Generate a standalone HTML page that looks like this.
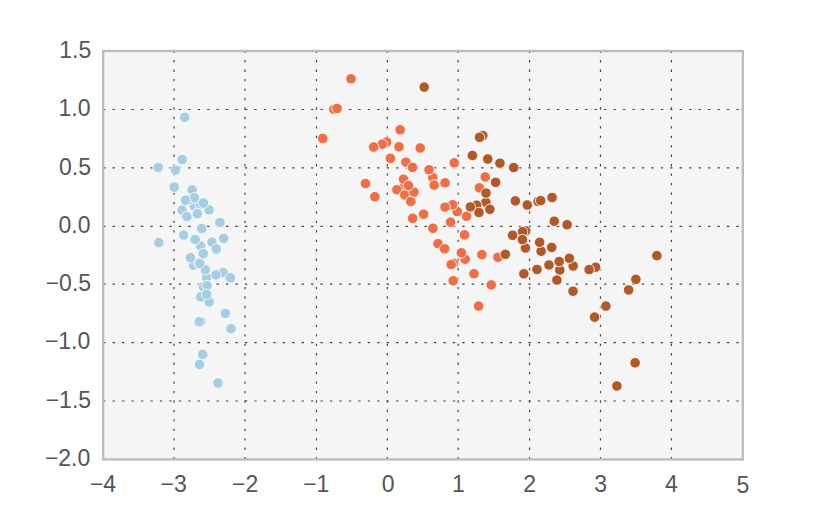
<!DOCTYPE html>
<html><head><meta charset="utf-8"><title>Iris PCA scatter</title>
<style>
html,body{margin:0;padding:0;background:#ffffff;font-family:"Liberation Sans",sans-serif;}
svg{display:block;}
</style></head><body>
<svg width="825" height="510" viewBox="0 0 825 510">
<rect x="103.125" y="51.000" width="639.725" height="408.450" fill="#f5f5f5"/>
<g stroke="#444444" stroke-width="1.181" stroke-dasharray="2.363 7.088" fill="none"><path d="M174.000 459.400V51.100"/><path d="M245.000 459.400V51.100"/><path d="M316.470 459.400V51.100"/><path d="M387.300 459.400V51.100"/><path d="M458.130 459.400V51.100"/><path d="M529.550 459.400V51.100"/><path d="M600.470 459.400V51.100"/><path d="M671.400 459.400V51.100"/><path d="M103.125 109.470H742.500"/><path d="M103.125 167.910H742.500"/><path d="M103.125 226.420H742.500"/><path d="M103.125 284.180H742.500"/><path d="M103.125 342.600H742.500"/><path d="M103.125 401.030H742.500"/></g>
<g stroke="#fcfcfc" stroke-width="0.880"><g fill="#a6cee3"><circle cx="196.60" cy="264.19" r="5.26"/><circle cx="194.39" cy="206.31" r="5.26"/><circle cx="181.99" cy="210.06" r="5.26"/><circle cx="192.18" cy="189.79" r="5.26"/><circle cx="193.45" cy="265.04" r="5.26"/><circle cx="225.32" cy="313.32" r="5.26"/><circle cx="186.89" cy="216.51" r="5.26"/><circle cx="200.70" cy="245.96" r="5.26"/><circle cx="182.13" cy="159.50" r="5.26"/><circle cx="197.34" cy="213.64" r="5.26"/><circle cx="209.22" cy="302.14" r="5.26"/><circle cx="201.65" cy="228.60" r="5.26"/><circle cx="189.27" cy="199.52" r="5.26"/><circle cx="158.17" cy="167.37" r="5.26"/><circle cx="199.49" cy="364.46" r="5.26"/><circle cx="217.94" cy="382.96" r="5.26"/><circle cx="200.98" cy="321.52" r="5.26"/><circle cx="199.15" cy="263.32" r="5.26"/><circle cx="231.07" cy="328.66" r="5.26"/><circle cx="203.48" cy="286.80" r="5.26"/><circle cx="223.15" cy="272.50" r="5.26"/><circle cx="206.62" cy="277.42" r="5.26"/><circle cx="158.83" cy="242.61" r="5.26"/><circle cx="223.67" cy="238.40" r="5.26"/><circle cx="219.91" cy="222.44" r="5.26"/><circle cx="209.13" cy="209.86" r="5.26"/><circle cx="211.89" cy="242.17" r="5.26"/><circle cx="205.26" cy="269.80" r="5.26"/><circle cx="199.75" cy="263.33" r="5.26"/><circle cx="200.25" cy="203.91" r="5.26"/><circle cx="203.40" cy="203.06" r="5.26"/><circle cx="216.08" cy="274.86" r="5.26"/><circle cx="199.20" cy="321.74" r="5.26"/><circle cx="202.79" cy="354.41" r="5.26"/><circle cx="197.34" cy="213.64" r="5.26"/><circle cx="183.62" cy="235.09" r="5.26"/><circle cx="200.79" cy="296.87" r="5.26"/><circle cx="197.34" cy="213.64" r="5.26"/><circle cx="175.46" cy="170.06" r="5.26"/><circle cx="203.27" cy="253.62" r="5.26"/><circle cx="190.50" cy="257.71" r="5.26"/><circle cx="184.67" cy="117.26" r="5.26"/><circle cx="174.29" cy="187.09" r="5.26"/><circle cx="216.40" cy="248.94" r="5.26"/><circle cx="230.37" cy="277.73" r="5.26"/><circle cx="194.37" cy="197.78" r="5.26"/><circle cx="207.02" cy="285.62" r="5.26"/><circle cx="185.51" cy="200.35" r="5.26"/><circle cx="206.66" cy="294.48" r="5.26"/><circle cx="195.20" cy="239.50" r="5.26"/></g><g fill="#f06e46"><circle cx="478.57" cy="306.05" r="5.26"/><circle cx="453.53" cy="263.32" r="5.26"/><circle cx="491.30" cy="284.90" r="5.26"/><circle cx="400.15" cy="129.77" r="5.26"/><circle cx="464.52" cy="234.88" r="5.26"/><circle cx="432.79" cy="177.40" r="5.26"/><circle cx="465.10" cy="259.20" r="5.26"/><circle cx="333.91" cy="109.30" r="5.26"/><circle cx="461.41" cy="252.80" r="5.26"/><circle cx="386.57" cy="142.03" r="5.26"/><circle cx="350.98" cy="78.81" r="5.26"/><circle cx="423.60" cy="214.15" r="5.26"/><circle cx="405.93" cy="162.17" r="5.26"/><circle cx="457.20" cy="211.58" r="5.26"/><circle cx="374.87" cy="196.71" r="5.26"/><circle cx="453.19" cy="280.71" r="5.26"/><circle cx="434.15" cy="185.03" r="5.26"/><circle cx="403.95" cy="187.36" r="5.26"/><circle cx="454.24" cy="162.88" r="5.26"/><circle cx="390.36" cy="158.25" r="5.26"/><circle cx="466.59" cy="216.26" r="5.26"/><circle cx="412.64" cy="218.29" r="5.26"/><circle cx="479.39" cy="187.87" r="5.26"/><circle cx="452.69" cy="204.81" r="5.26"/><circle cx="438.02" cy="243.63" r="5.26"/><circle cx="451.20" cy="264.54" r="5.26"/><circle cx="481.85" cy="254.63" r="5.26"/><circle cx="497.93" cy="257.28" r="5.26"/><circle cx="445.01" cy="207.15" r="5.26"/><circle cx="365.46" cy="183.50" r="5.26"/><circle cx="382.29" cy="144.13" r="5.26"/><circle cx="373.66" cy="147.05" r="5.26"/><circle cx="396.88" cy="189.72" r="5.26"/><circle cx="485.24" cy="176.95" r="5.26"/><circle cx="429.01" cy="169.71" r="5.26"/><circle cx="444.64" cy="248.84" r="5.26"/><circle cx="473.99" cy="273.69" r="5.26"/><circle cx="445.04" cy="182.84" r="5.26"/><circle cx="404.71" cy="194.97" r="5.26"/><circle cx="398.98" cy="146.80" r="5.26"/><circle cx="420.19" cy="147.98" r="5.26"/><circle cx="450.53" cy="222.14" r="5.26"/><circle cx="403.55" cy="179.16" r="5.26"/><circle cx="337.06" cy="108.45" r="5.26"/><circle cx="412.55" cy="167.38" r="5.26"/><circle cx="410.82" cy="201.45" r="5.26"/><circle cx="413.95" cy="192.07" r="5.26"/><circle cx="432.88" cy="228.31" r="5.26"/><circle cx="322.75" cy="138.41" r="5.26"/><circle cx="408.45" cy="185.60" r="5.26"/></g><g fill="#b15928"><circle cx="567.15" cy="224.70" r="5.26"/><circle cx="487.75" cy="159.02" r="5.26"/><circle cx="573.17" cy="265.97" r="5.26"/><circle cx="527.30" cy="204.96" r="5.26"/><circle cx="554.22" cy="221.20" r="5.26"/><circle cx="628.61" cy="289.92" r="5.26"/><circle cx="424.19" cy="87.11" r="5.26"/><circle cx="595.59" cy="267.19" r="5.26"/><circle cx="552.09" cy="197.44" r="5.26"/><circle cx="594.60" cy="317.12" r="5.26"/><circle cx="505.36" cy="254.32" r="5.26"/><circle cx="515.33" cy="200.87" r="5.26"/><circle cx="541.12" cy="251.20" r="5.26"/><circle cx="482.81" cy="135.51" r="5.26"/><circle cx="499.91" cy="163.17" r="5.26"/><circle cx="522.61" cy="239.95" r="5.26"/><circle cx="525.77" cy="230.84" r="5.26"/><circle cx="635.14" cy="362.75" r="5.26"/><circle cx="656.87" cy="255.63" r="5.26"/><circle cx="479.53" cy="137.31" r="5.26"/><circle cx="559.79" cy="270.04" r="5.26"/><circle cx="472.41" cy="155.44" r="5.26"/><circle cx="635.89" cy="279.37" r="5.26"/><circle cx="485.87" cy="202.28" r="5.26"/><circle cx="548.97" cy="264.98" r="5.26"/><circle cx="573.01" cy="291.22" r="5.26"/><circle cx="476.64" cy="205.19" r="5.26"/><circle cx="478.98" cy="212.50" r="5.26"/><circle cx="538.10" cy="201.49" r="5.26"/><circle cx="556.91" cy="280.04" r="5.26"/><circle cx="589.12" cy="269.57" r="5.26"/><circle cx="616.92" cy="385.97" r="5.26"/><circle cx="540.65" cy="200.62" r="5.26"/><circle cx="489.81" cy="209.31" r="5.26"/><circle cx="513.72" cy="167.59" r="5.26"/><circle cx="605.85" cy="306.09" r="5.26"/><circle cx="539.68" cy="242.29" r="5.26"/><circle cx="522.62" cy="231.69" r="5.26"/><circle cx="470.33" cy="206.90" r="5.26"/><circle cx="537.02" cy="269.42" r="5.26"/><circle cx="551.70" cy="247.39" r="5.26"/><circle cx="523.87" cy="273.83" r="5.26"/><circle cx="487.75" cy="159.02" r="5.26"/><circle cx="569.39" cy="258.28" r="5.26"/><circle cx="559.17" cy="261.49" r="5.26"/><circle cx="525.40" cy="247.95" r="5.26"/><circle cx="495.68" cy="182.34" r="5.26"/><circle cx="512.61" cy="235.25" r="5.26"/><circle cx="522.39" cy="239.60" r="5.26"/><circle cx="486.02" cy="193.08" r="5.26"/></g></g>
<rect x="103.125" y="51.000" width="639.725" height="408.450" fill="none" stroke="#bcbcbc" stroke-width="2.361"/>
<g fill="#555555" font-family="&quot;Liberation Sans&quot;, sans-serif" font-size="23px" text-anchor="middle"><text x="103.0" y="492.4">−4</text><text x="173.6" y="492.3">−3</text><text x="245.2" y="492.3">−2</text><text x="316.3" y="492.3">−1</text><text x="388.1" y="492.4">0</text><text x="458.3" y="492.3">1</text><text x="529.7" y="492.3">2</text><text x="600.7" y="492.3">3</text><text x="671.5" y="492.3">4</text><text x="743.0" y="492.6">5</text></g>
<g fill="#555555" font-family="&quot;Liberation Sans&quot;, sans-serif" font-size="23px" text-anchor="end"><text x="91.3" y="58.35">1.5</text><text x="90.5" y="116.24">1.0</text><text x="91.0" y="174.55">0.5</text><text x="90.5" y="232.88">0.0</text><text x="91.1" y="291.04">−0.5</text><text x="90.3" y="349.38">−1.0</text><text x="91.1" y="408.31">−1.5</text><text x="90.3" y="466.32">−2.0</text></g>
</svg>
</body></html>
